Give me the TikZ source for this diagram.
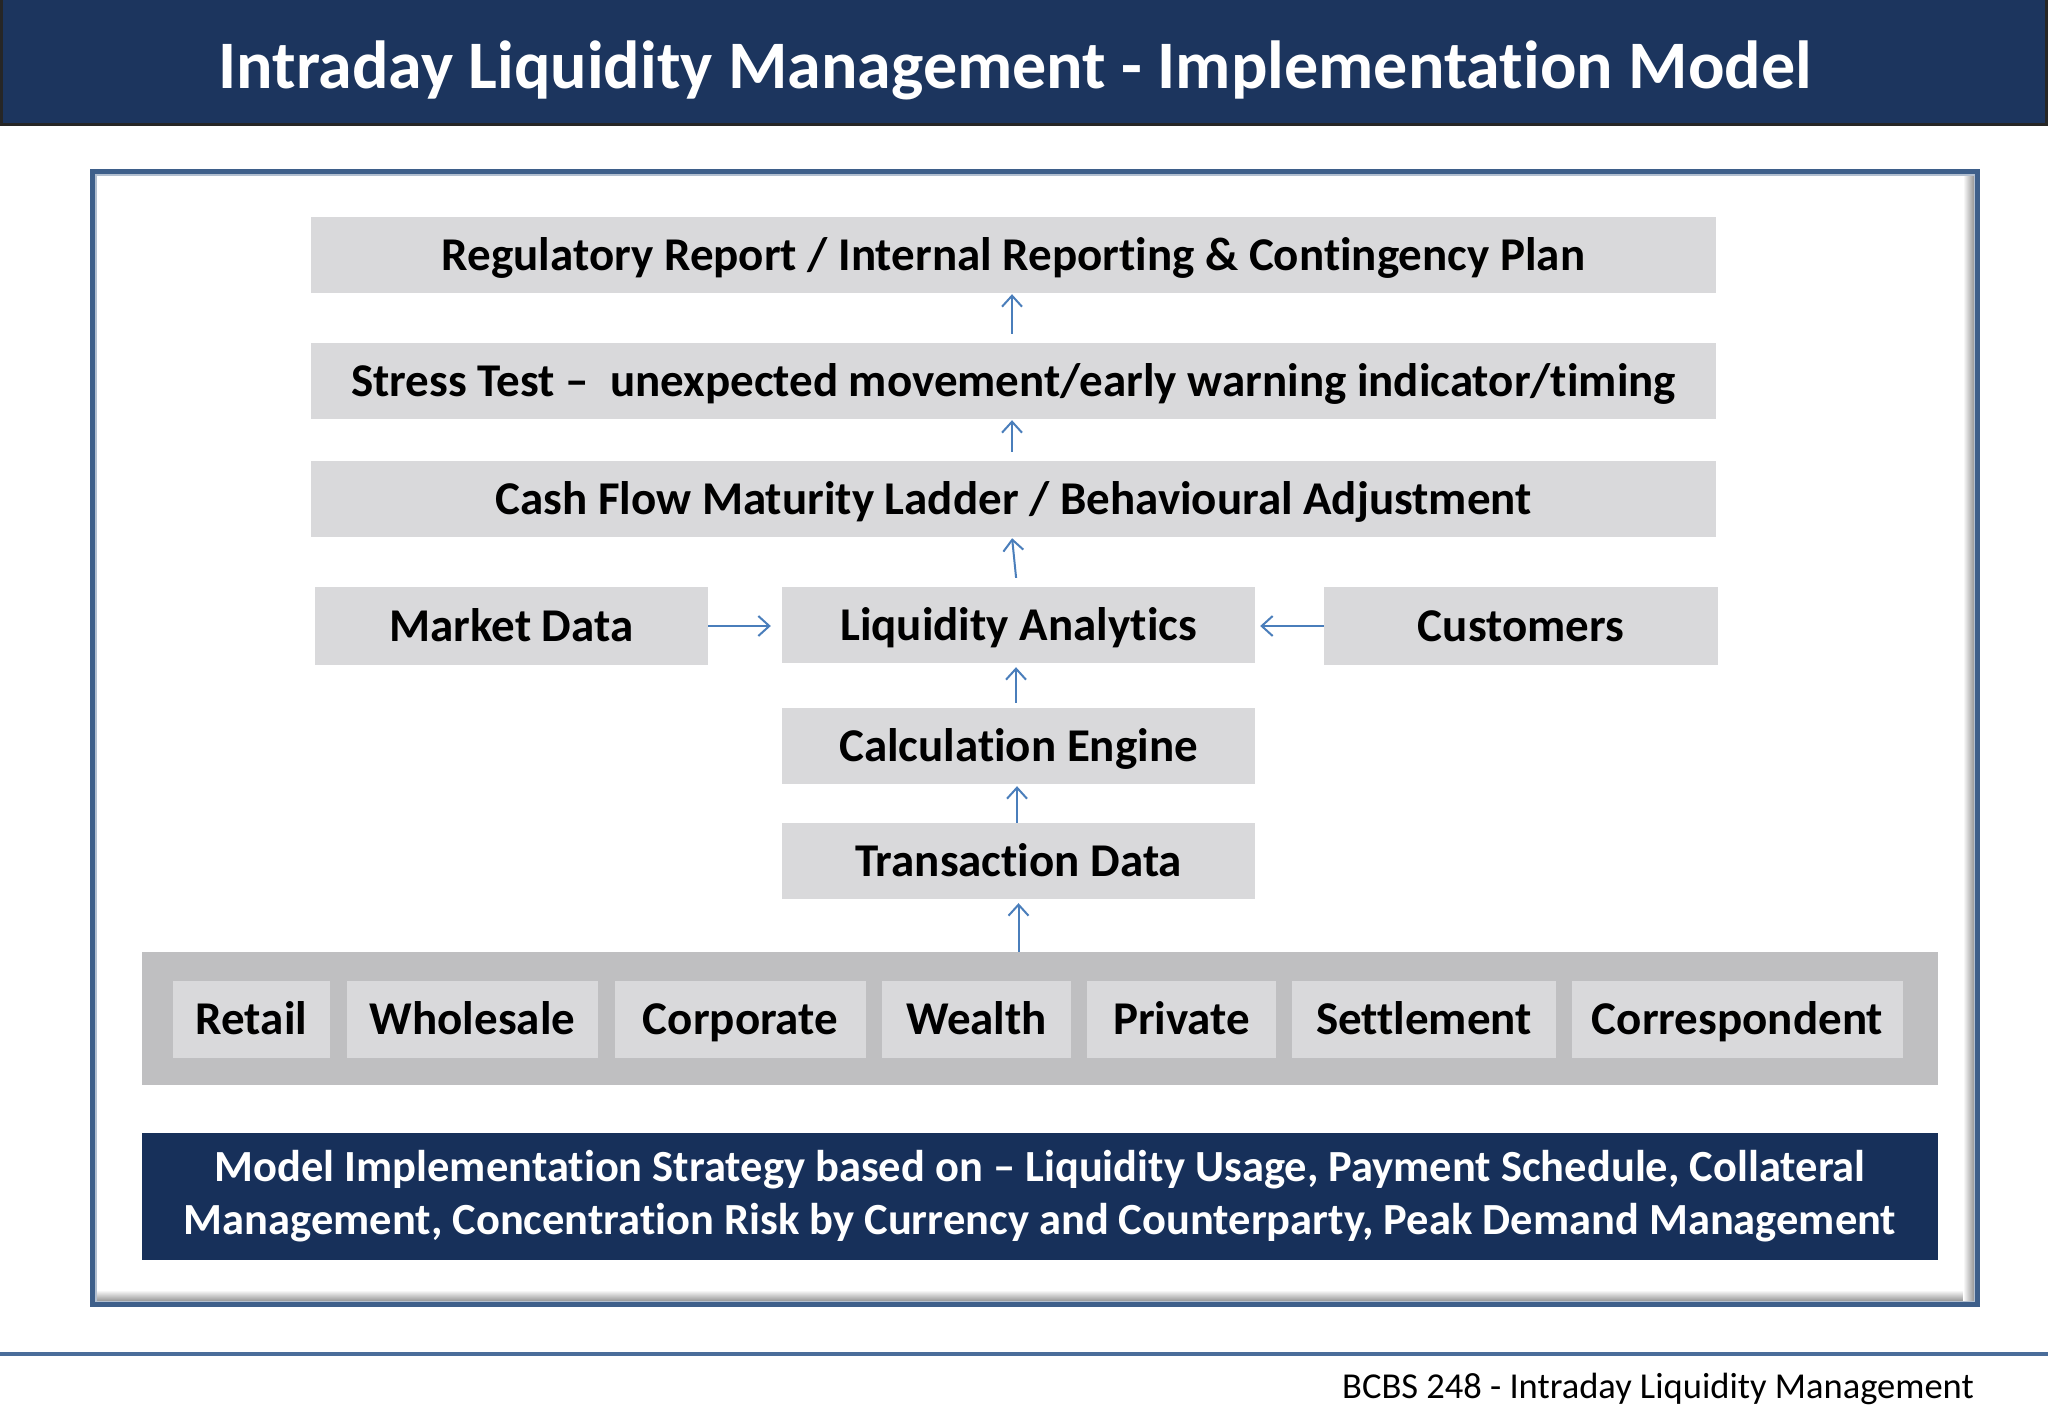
\documentclass[tikz,border=0pt]{standalone}
\usepackage{fontspec}
\setmainfont{Carlito}[RawFeature={-liga}]
\usetikzlibrary{arrows.meta}
\definecolor{navy}{HTML}{1C355E}
\definecolor{navybox}{HTML}{17305A}
\definecolor{boxgray}{HTML}{D9D9DB}
\definecolor{bargray}{HTML}{BFBFC1}
\definecolor{arrowblue}{HTML}{4A7EBB}
\definecolor{frameblue}{HTML}{3E5F8A}
\definecolor{lineblue}{HTML}{4A6D9A}
\begin{document}
\begin{tikzpicture}[x=1pt,y=-1pt,
  gbox/.style={fill=boxgray, inner sep=0pt, text=black, text height=30pt, text depth=0pt,
    font=\fontsize{47}{52}\selectfont\bfseries},
  flow/.style={draw=arrowblue, line width=2pt,
    -{Straight Barb[length=11pt,width=20pt]}},
  titlestyle/.style={font=\fontsize{68}{72}\selectfont\bfseries, text=white,
    text height=43.5pt, text depth=0pt, inner sep=0pt},
  strategy/.style={fill=navybox, text=white, align=center, inner sep=0pt,
    font=\fontsize{44.5}{53}\selectfont\bfseries},
  footer/.style={font=\fontsize{36.5}{40}\selectfont, text=black}]
\useasboundingbox (0,0) rectangle (2048,1418);
\fill[white] (0,0) rectangle (2048,1418);
% title bar
\fill[navy] (0,0) rectangle (2048,126);
\draw[black!85, line width=3pt] (1.5,-2) -- (1.5,124.5) -- (2046.5,124.5) -- (2046.5,-2);
\node[titlestyle] (title) at (1015,66.5) {Intraday Liquidity Management - Implementation Model};
% frame
\shade[top color=white, bottom color=black!45] (95,1290) rectangle (1975,1302);
\shade[left color=white, right color=black!45] (1963,174) rectangle (1975,1302);
\draw[frameblue, line width=5pt] (92.5,171.5) rectangle (1977.5,1304.5);
\draw[frameblue!40, line width=1.5pt] (95.75,174.75) rectangle (1974.25,1301.25);
% boxes
\node[gbox, minimum width=1405pt, minimum height=76pt] (reg) at (1013.5,255)
  {Regulatory Report / Internal Reporting \& Contingency Plan};
\node[gbox, minimum width=1405pt, minimum height=76pt] (stress) at (1013.5,381)
  {Stress Test --\ \ unexpected movement/early warning indicator/timing};
\node[gbox, minimum width=1405pt, minimum height=76pt] (cash) at (1013.5,499)
  {Cash Flow Maturity Ladder / Behavioural Adjustment};
\node[gbox, minimum width=393pt, minimum height=78pt] (market) at (511.5,626) {Market Data};
\node[gbox, minimum width=473pt, minimum height=76pt] (la) at (1018.5,625) {Liquidity Analytics};
\node[gbox, minimum width=394pt, minimum height=78pt] (cust) at (1521,626) {Customers};
\node[gbox, minimum width=473pt, minimum height=76pt] (calc) at (1018.5,746) {Calculation Engine};
\node[gbox, minimum width=473pt, minimum height=76pt] (trans) at (1018.5,861) {Transaction Data};
% business lines
\node[fill=bargray, minimum width=1796pt, minimum height=133pt, inner sep=0pt] (bar) at (1040,1018.5) {};
\node[gbox, minimum width=157pt, minimum height=77pt] (retail) at (251.5,1019.5) {Retail};
\node[gbox, minimum width=251pt, minimum height=77pt] (whole) at (472.5,1019.5) {Wholesale};
\node[gbox, minimum width=251pt, minimum height=77pt] (corp) at (740.5,1019.5) {Corporate};
\node[gbox, minimum width=189pt, minimum height=77pt] (wealth) at (976.5,1019.5) {Wealth};
\node[gbox, minimum width=189pt, minimum height=77pt] (priv) at (1181.5,1019.5) {Private};
\node[gbox, minimum width=264pt, minimum height=77pt] (settle) at (1424,1019.5) {Settlement};
\node[gbox, minimum width=331pt, minimum height=77pt] (corr) at (1737.5,1019.5) {Correspondent};
% strategy box
\node[strategy, minimum width=1796pt, minimum height=127pt] (strat) at (1040,1196.5)
  {Model Implementation Strategy based on -- Liquidity Usage, Payment Schedule, Collateral\\
   Management, Concentration Risk by Currency and Counterparty, Peak Demand Management};
% connectors
\draw[flow, shorten <=9pt, shorten >=1pt] ([xshift=-1.5pt]stress.north) -- ([xshift=-1.5pt]reg.south);
\draw[flow, shorten <=9pt, shorten >=1pt] ([xshift=-1.5pt]cash.north) -- ([xshift=-1.5pt]stress.south);
\draw[flow, shorten <=9pt, shorten >=1pt] ([xshift=-1.5pt]la.north) -- ([xshift=-1.5pt]cash.south);
\draw[flow, shorten <=5pt, shorten >=4pt] ([xshift=-2.5pt]calc.north) -- ([xshift=-2.5pt]la.south);
\draw[flow, shorten <=0pt, shorten >=2pt] ([xshift=-1.5pt]trans.north) -- ([xshift=-1.5pt]calc.south);
\draw[flow, shorten <=0pt, shorten >=4pt] (bar.north -| trans.south) -- (trans.south);
\draw[flow, shorten <=0pt, shorten >=11pt] (market.east) -- (market.east -| la.west);
\draw[flow, shorten <=0pt, shorten >=5pt] (cust.west) -- (cust.west -| la.east);
% footer
\draw[lineblue, line width=4pt] (0,1354) -- (2048,1354);
\node[footer, anchor=base east, inner sep=0pt] (foot) at (1974,1398) {BCBS 248 - Intraday Liquidity Management};
\end{tikzpicture}
\end{document}
